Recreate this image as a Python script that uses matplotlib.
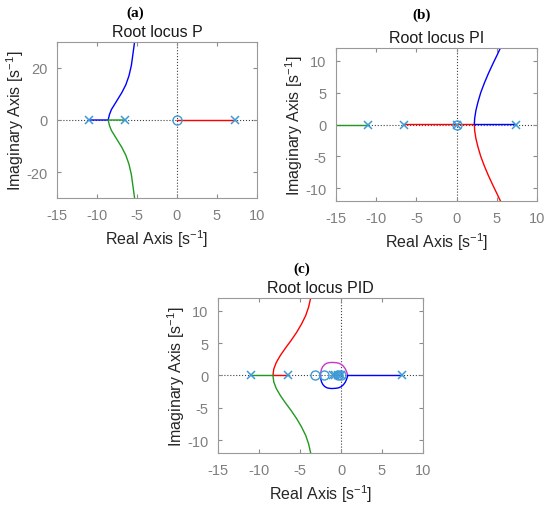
import numpy as np
import matplotlib
matplotlib.use("Agg")
import matplotlib.pyplot as plt

plt.rcParams['font.family'] = ['Liberation Sans', 'DejaVu Sans']
plt.rcParams['mathtext.fontset'] = 'custom'
plt.rcParams['mathtext.rm'] = 'Liberation Sans'
plt.rcParams['mathtext.it'] = 'Liberation Sans:italic'
plt.rcParams['axes.unicode_minus'] = False

# ---- data (real, imag) ----
# (a) P controller
p_poles = [-11.0, -6.5, 7.3]
p_zeros = [0.0]
p_blue_re = [-11.0, -8.6, -8.45, -8.2, -7.8, -7.4, -6.9, -6.4, -6.0, -5.7, -5.5, -5.3]
p_blue_im = [0.0, 0.0, 2.0, 4.0, 6.0, 8.0, 10.5, 13.5, 17.0, 21.0, 25.5, 30.0]
p_green_re = [-6.5, -8.6, -8.45, -8.2, -7.8, -7.4, -6.9, -6.4, -6.0, -5.7, -5.5, -5.3]
p_green_im = [0.0, 0.0, -2.0, -4.0, -6.0, -8.0, -10.5, -13.5, -17.0, -21.0, -25.5, -30.0]
p_red_re = [0.0, 7.3]
p_red_im = [0.0, 0.0]

# (b) PI controller
pi_poles = [-11.0, -6.5, 0.0, 7.35]
pi_zeros = [0.05]
pi_green_re = [-16.0, -11.0]
pi_green_im = [0.0, 0.0]
pi_red_re = [-6.5, 2.2, 2.25, 2.4, 2.65, 3.0, 3.45, 3.95, 4.5, 5.0, 5.45]
pi_red_im = [0.0, 0.0, -1.0, -2.2, -3.5, -5.0, -6.5, -8.0, -9.5, -10.8, -12.0]
pi_blue_re = [7.35, 2.2, 2.25, 2.4, 2.65, 3.0, 3.45, 3.95, 4.5, 5.0, 5.45]
pi_blue_im = [0.0, 0.0, 1.0, 2.2, 3.5, 5.0, 6.5, 8.0, 9.5, 10.8, 12.0]

# (c) PID controller
pid_poles = [-11.0, -6.5, -1.0, -0.7, -0.35, 0.0, 7.4]
pid_zeros = [-3.15, -2.1, -0.35, 0.0]
pid_red_re = [-6.5, -8.3, -8.2, -7.9, -7.4, -6.8, -6.1, -5.4, -4.8, -4.3, -3.95, -3.7]
pid_red_im = [0.0, 0.0, 1.0, 2.0, 3.1, 4.2, 5.4, 6.7, 8.0, 9.3, 10.6, 12.0]
pid_green_re = [-11.0, -8.3, -8.2, -7.9, -7.4, -6.8, -6.1, -5.4, -4.8, -4.3, -3.95, -3.7]
pid_green_im = [0.0, 0.0, -1.0, -2.0, -3.1, -4.2, -5.4, -6.7, -8.0, -9.3, -10.6, -12.0]
pid_mag_re = [-2.5, -2.47, -2.38, -2.22, -2.0, -1.73, -1.43, -1.1, -0.85, -0.6,
              -0.27, 0.03, 0.3, 0.53, 0.69, 0.78, 0.8]
pid_mag_im = [0.0, 0.5, 0.98, 1.39, 1.7, 1.9, 1.99, 2.02, 2.0, 1.98,
              1.9, 1.72, 1.42, 1.02, 0.55, 0.2, 0.0]
pid_blue_re = [7.4, 0.8, 0.78, 0.69, 0.53, 0.3, 0.03, -0.27, -0.6, -0.85, -1.1,
               -1.43, -1.73, -2.0, -2.22, -2.38, -2.47, -2.5]
pid_blue_im = [0.0, 0.0, -0.2, -0.55, -1.02, -1.42, -1.72, -1.9, -1.98, -2.0, -2.02,
               -1.99, -1.9, -1.7, -1.39, -0.98, -0.5, 0.0]

x_ticks = [-15, -10, -5, 0, 5, 10]

BLUE = '#0000ff'
RED = '#ff0000'
GREEN = '#1f9a1f'
MAG = '#cc33cc'
MARK = '#3d9ad6'
GRAY = '#8c8c8c'


def style_axes(ax, ylim, yticks, title):
    ax.set_xlim(-15, 10)
    ax.set_ylim(*ylim)
    ax.set_xticks(x_ticks)
    ax.set_yticks(yticks)
    ax.axhline(0, color='#404040', ls=':', lw=0.8, zorder=0)
    ax.axvline(0, color='#404040', ls=':', lw=0.8, zorder=0)
    ax.tick_params(direction='in', top=True, right=True, length=3,
                   color=GRAY, labelcolor='#7f7f7f', labelsize=10.5, pad=7)
    for s in ax.spines.values():
        s.set_color('#999999')
        s.set_linewidth(0.8)
    ax.set_xlabel('Real Axis [s$^{-1}$]', fontsize=11.5, color='#262626', labelpad=4)
    ax.set_ylabel('Imaginary Axis [s$^{-1}$]', fontsize=11.5, color='#262626', labelpad=0)
    ax.set_title(title, fontsize=11.5, color='#1a1a1a', pad=4)


def markers(ax, poles, zeros):
    ax.plot(poles, np.zeros(len(poles)), 'x', color=MARK, ms=6, mew=1.1, zorder=5)
    ax.plot(zeros, np.zeros(len(zeros)), 'o', mfc='none', mec=MARK, ms=6.5, mew=1.0, zorder=5)


fig = plt.figure(figsize=(5.5, 5.1), dpi=100)

ax1 = fig.add_axes([0.1036, 0.6098, 0.3636, 0.3059])
ax1.plot(p_blue_re, p_blue_im, color=BLUE, lw=1)
ax1.plot(p_green_re, p_green_im, color=GREEN, lw=1)
ax1.plot(p_red_re, p_red_im, color=RED, lw=1)
markers(ax1, p_poles, p_zeros)
style_axes(ax1, (-30, 30), [-20, 0, 20], 'Root locus P')

ax2 = fig.add_axes([0.6109, 0.6039, 0.3655, 0.30])
ax2.plot(pi_green_re, pi_green_im, color=GREEN, lw=1)
ax2.plot(pi_red_re, pi_red_im, color=RED, lw=1)
ax2.plot(pi_blue_re, pi_blue_im, color=BLUE, lw=1)
markers(ax2, pi_poles, pi_zeros)
style_axes(ax2, (-12, 12), [-10, -5, 0, 5, 10], 'Root locus PI')

ax3 = fig.add_axes([0.3964, 0.1098, 0.3727, 0.304])
ax3.plot(pid_red_re, pid_red_im, color=RED, lw=1)
ax3.plot(pid_green_re, pid_green_im, color=GREEN, lw=1)
ax3.plot(pid_mag_re, pid_mag_im, color=MAG, lw=1)
ax3.plot(pid_blue_re, pid_blue_im, color=BLUE, lw=1)
markers(ax3, pid_poles, pid_zeros)
style_axes(ax3, (-12, 12), [-10, -5, 0, 5, 10], 'Root locus PID')

# panel letters
for lbl, px, py in [('(a)', 135, 13), ('(b)', 422, 15), ('(c)', 302, 269)]:
    fig.text(px / 550, 1 - py / 510, lbl, ha='center', va='center',
             fontsize=11, fontweight='bold', family='Liberation Serif')

fig.savefig('out.png', dpi=100, facecolor='white')
